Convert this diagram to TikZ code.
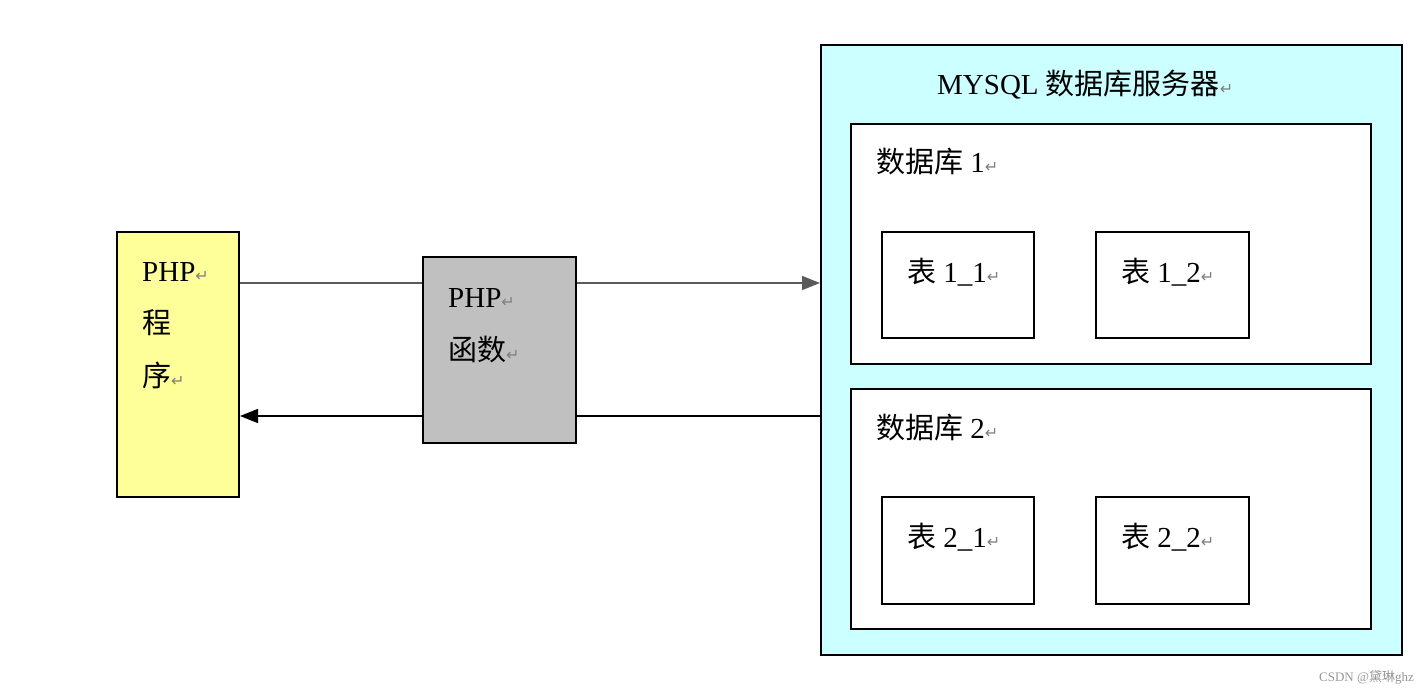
\documentclass[tikz,border=0pt]{standalone}
\usepackage{fontspec}
\setmainfont{Liberation Serif}
\newfontfamily\cjk{Noto Sans CJK SC}
\newfontfamily\dv{DejaVu Sans}
\usetikzlibrary{arrows.meta}
\newcommand{\rt}{{\dv\fontsize{16}{16}\selectfont\color{gray}\char"21B5}}
\begin{document}
\begin{tikzpicture}[x=1pt,y=-1pt,
  box/.style={draw=black,line width=2pt,anchor=north west,inner sep=0pt},
  txt/.style={anchor=west,inner sep=0pt,font=\fontsize{29}{30}\selectfont},
  arr/.style={line width=1.6pt,-{Triangle[length=18pt,width=14pt]}}]
\useasboundingbox (0,0) rectangle (1428,694);
\node[box,fill={rgb,255:red,255;green,255;blue,153},minimum width=122pt,minimum height=265pt] (php) at (116,231) {};
\node[box,fill={rgb,255:red,204;green,255;blue,255},minimum width=581pt,minimum height=610pt] (srv) at (820,44) {};
\coordinate (a1) at (238,283);
\coordinate (a2) at (238,416);
\draw[arr,draw={rgb,255:red,90;green,90;blue,90}] (php.east |- a1) -- (srv.west |- a1);
\draw[arr] (srv.west |- a2) -- (php.east |- a2);
\node[box,fill={rgb,255:red,192;green,192;blue,192},minimum width=153pt,minimum height=186pt] (fn) at (422,256) {};
\node[box,fill=white,minimum width=520pt,minimum height=240pt] (db1) at (850,123) {};
\node[box,fill=white,minimum width=520pt,minimum height=240pt] (db2) at (850,388) {};
\node[box,fill=white,minimum width=152pt,minimum height=106pt] (t11) at (881,231) {};
\node[box,fill=white,minimum width=153pt,minimum height=106pt] (t12) at (1095,231) {};
\node[box,fill=white,minimum width=152pt,minimum height=107pt] (t21) at (881,496) {};
\node[box,fill=white,minimum width=153pt,minimum height=107pt] (t22) at (1095,496) {};
\node[txt] (l0) at (937,85) {MYSQL {\cjk 数据库服务器}\rt};
\node[txt] (l1) at (876,162) {{\cjk 数据库} 1\rt};
\node[txt] (l2) at (876,428) {{\cjk 数据库} 2\rt};
\node[txt] (l11) at (907,272) {{\cjk 表} 1\_1\rt};
\node[txt] (l12) at (1121,272) {{\cjk 表} 1\_2\rt};
\node[txt] (l21) at (907,537) {{\cjk 表} 2\_1\rt};
\node[txt] (l22) at (1121,537) {{\cjk 表} 2\_2\rt};
\node[txt] (p1) at (142,272) {PHP\rt};
\node[txt] (p2) at (142,323) {\cjk 程};
\node[txt] (p3) at (142,375) {{\cjk 序}\rt};
\node[txt] (f1) at (448,298) {PHP\rt};
\node[txt] (f2) at (448,350) {{\cjk 函数}\rt};
\node[anchor=east,inner sep=0pt,text={rgb,255:red,150;green,150;blue,150},font=\fontsize{13}{13}\selectfont] (wm) at (1414,677) {CSDN @{\cjk 黛琳}ghz};
\end{tikzpicture}
\end{document}
